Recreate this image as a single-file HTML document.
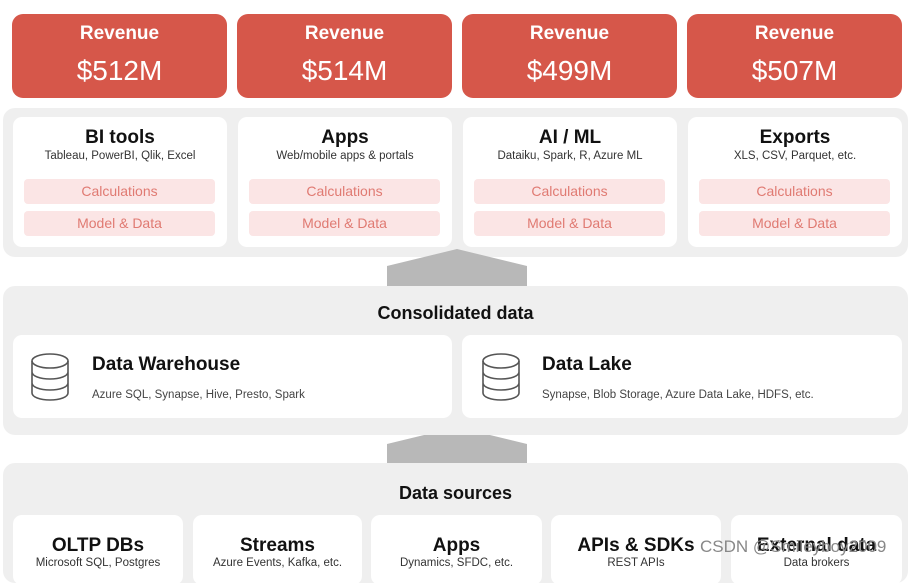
<!DOCTYPE html>
<html><head><meta charset="utf-8"><style>
*{margin:0;padding:0;box-sizing:border-box}
body{width:912px;height:566px;overflow:hidden;background:#fff;font-family:"Liberation Sans",sans-serif;position:relative}
.a{position:absolute}
.rev{background:#d6574a;border-radius:11px;color:#fff;text-align:center;top:14px;height:84px;width:215px}
.rev .t{font-size:19px;font-weight:bold;margin-top:9px;line-height:22px}
.rev .v{font-size:28px;margin-top:10px;line-height:32px}
.panel{background:#efefef;border-radius:12px;left:3px;width:905px}
.card{background:#fff;border-radius:9px}
.tc{text-align:center}
.h{font-size:19px;font-weight:bold;color:#111}
.s{font-size:11.5px;color:#333}
.pk{position:absolute;left:11px;width:191px;height:25px;background:#fbe5e5;border-radius:4px;color:#e07a72;font-size:14px;text-align:center;line-height:25px}
</style></head><body>
<div class="a rev" style="left:12px"><div class="t">Revenue</div><div class="v">$512M</div></div>
<div class="a rev" style="left:237px"><div class="t">Revenue</div><div class="v">$514M</div></div>
<div class="a rev" style="left:462px"><div class="t">Revenue</div><div class="v">$499M</div></div>
<div class="a rev" style="left:687px"><div class="t">Revenue</div><div class="v">$507M</div></div>

<div class="a panel" style="top:108px;height:149px"></div>
<div class="a card" style="left:13px;top:117px;width:214px;height:130px"><div class="h tc" style="margin-top:10px;line-height:22px">BI tools</div><div class="s tc" style="margin-top:1px">Tableau, PowerBI, Qlik, Excel</div><div class="pk" style="top:62px">Calculations</div><div class="pk" style="top:94px">Model &amp; Data</div></div>
<div class="a card" style="left:238px;top:117px;width:214px;height:130px"><div class="h tc" style="margin-top:10px;line-height:22px">Apps</div><div class="s tc" style="margin-top:1px">Web/mobile apps &amp; portals</div><div class="pk" style="top:62px">Calculations</div><div class="pk" style="top:94px">Model &amp; Data</div></div>
<div class="a card" style="left:463px;top:117px;width:214px;height:130px"><div class="h tc" style="margin-top:10px;line-height:22px">AI / ML</div><div class="s tc" style="margin-top:1px">Dataiku, Spark, R, Azure ML</div><div class="pk" style="top:62px">Calculations</div><div class="pk" style="top:94px">Model &amp; Data</div></div>
<div class="a card" style="left:688px;top:117px;width:214px;height:130px"><div class="h tc" style="margin-top:10px;line-height:22px">Exports</div><div class="s tc" style="margin-top:1px">XLS, CSV, Parquet, etc.</div><div class="pk" style="top:62px">Calculations</div><div class="pk" style="top:94px">Model &amp; Data</div></div>

<svg class="a" style="left:0;top:0" width="912" height="566"><polygon points="387,266 457,249 527,266 527,286 387,286" fill="#b8b8b8"/><polygon points="387,444 457,427 527,444 527,464 387,464" fill="#b8b8b8"/></svg>

<div class="a panel" style="top:286px;height:149px"></div>
<div class="a tc" style="left:3px;width:905px;top:303px;font-size:18px;font-weight:bold;color:#111">Consolidated data</div>
<div class="a card" style="left:13px;top:335px;width:439px;height:83px"></div>
<div class="a card" style="left:462px;top:335px;width:440px;height:83px"></div>
<svg class="a" style="left:30px;top:352px" width="42" height="52"><g fill="none" stroke="#555" stroke-width="1.6"><ellipse cx="20" cy="9" rx="18" ry="7"/><path d="M2 9v32c0 4 8 7 18 7s18-3 18-7V9M2 20c0 4 8 7 18 7s18-3 18-7M2 31c0 4 8 7 18 7s18-3 18-7"/></g></svg>
<svg class="a" style="left:481px;top:352px" width="42" height="52"><g fill="none" stroke="#555" stroke-width="1.6"><ellipse cx="20" cy="9" rx="18" ry="7"/><path d="M2 9v32c0 4 8 7 18 7s18-3 18-7V9M2 20c0 4 8 7 18 7s18-3 18-7M2 31c0 4 8 7 18 7s18-3 18-7"/></g></svg>
<div class="a h" style="left:92px;top:354px">Data Warehouse</div>
<div class="a s" style="left:92px;top:389px;color:#444">Azure SQL, Synapse, Hive, Presto, Spark</div>
<div class="a h" style="left:542px;top:354px">Data Lake</div>
<div class="a s" style="left:542px;top:389px;color:#444">Synapse, Blob Storage, Azure Data Lake, HDFS,  etc.</div>

<div class="a panel" style="top:463px;height:120px"></div>
<div class="a tc" style="left:3px;width:905px;top:483px;font-size:18px;font-weight:bold;color:#111">Data sources</div>
<div class="a card tc" style="left:13px;top:515px;width:170px;height:70px"><div class="h" style="margin-top:20px">OLTP DBs</div><div class="s">Microsoft SQL, Postgres</div></div>
<div class="a card tc" style="left:193px;top:515px;width:169px;height:70px"><div class="h" style="margin-top:20px">Streams</div><div class="s">Azure Events, Kafka, etc.</div></div>
<div class="a card tc" style="left:371px;top:515px;width:171px;height:70px"><div class="h" style="margin-top:20px">Apps</div><div class="s">Dynamics, SFDC, etc.</div></div>
<div class="a card tc" style="left:551px;top:515px;width:170px;height:70px"><div class="h" style="margin-top:20px">APIs &amp; SDKs</div><div class="s">REST APIs</div></div>
<div class="a card tc" style="left:731px;top:515px;width:171px;height:70px"><div class="h" style="margin-top:20px">External data</div><div class="s">Data brokers</div></div>
<div class="a" style="left:700px;top:537px;font-size:17px;color:#888">CSDN @Smileyboy2009</div>
</body></html>
